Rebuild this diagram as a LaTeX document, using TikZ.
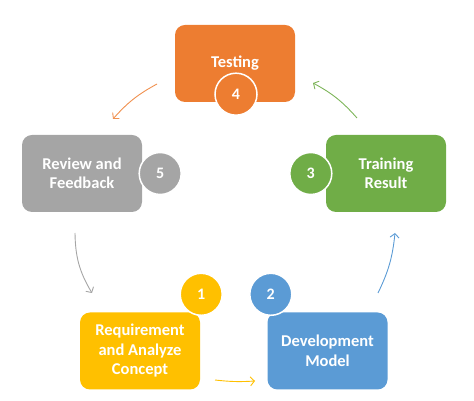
\documentclass[tikz,border=0pt]{standalone}
\usepackage{fontspec}
\setmainfont{Carlito}
\usetikzlibrary{arrows.meta}

\definecolor{yel}{HTML}{FFC000}
\definecolor{blu}{HTML}{5B9BD5}
\definecolor{grn}{HTML}{70AD47}
\definecolor{orng}{HTML}{ED7D31}
\definecolor{gry}{HTML}{A5A5A5}

\begin{document}
\begin{tikzpicture}[x=1pt,y=1pt,>={Straight Barb[length=4pt,width=9pt]},
		stage/.style={rectangle,rounded corners=10pt,minimum width=120pt,minimum height=77pt,
			text=white,align=center,font=\bfseries\fontsize{16.5}{19.5}\selectfont},
		num/.style={circle,draw=white,line width=1.5pt,minimum size=42pt,inner sep=0pt,
			text=white,font=\bfseries\fontsize{16}{16}\selectfont},
		flow/.style={->,line width=0.9pt}]
		\useasboundingbox (0,0) rectangle (474,401);

		% the five stages
		\node[stage,fill=yel]  (req)   at (140,50)    {Requirement\\and Analyze\\Concept};
		\node[stage,fill=blu]  (dev)   at (327.5,50)  {Development\\Model};
		\node[stage,fill=grn]  (train) at (386,227.5) {Training\\Result};
		\node[stage,fill=orng] (test)  at (235,337.5) {Testing};
		\node[stage,fill=gry]  (rev)   at (82,227.5)  {Review and\\Feedback};

		% numbers
		\node[num,fill=yel]  (n1) at ([xshift=1pt,yshift=18pt]req.north east)  {1};
		\node[num,fill=blu]  (n2) at ([xshift=3.5pt,yshift=18pt]dev.north west) {2};
		\node[num,fill=grn]  (n3) at ([xshift=-15pt]train.west)                 {3};
		\node[num,fill=orng] (n4) at ([xshift=1pt,yshift=8pt]test.south)        {4};
		\node[num,fill=gry]  (n5) at ([xshift=18pt]rev.east)                    {5};

		% arrow ends
		\coordinate (req-a)   at (215,21);
		\coordinate (dev-b)   at (255,20);
		\coordinate (dev-a)   at (378,108);
		\coordinate (train-b) at (395,168);
		\coordinate (train-a) at (357,283);
		\coordinate (test-b)  at (313,318);
		\coordinate (test-a)  at (157,317);
		\coordinate (rev-b)   at (113,282);
		\coordinate (rev-a)   at (75,168);
		\coordinate (req-b)   at (92,108);

		\draw[flow,yel]      (req-a)   to [bend right=5]  (dev-b);
		\draw[flow,blu]      (dev-a)   to [bend right=10] (train-b);
		\draw[flow,grn!90]   (train-a) to [bend right=10] (test-b);
		\draw[flow,orng!85]  (test-a)  to [bend right=10] (rev-b);
		\draw[flow,gry]      (rev-a)   to [bend right=15] (req-b);
	\end{tikzpicture}
\end{document}
